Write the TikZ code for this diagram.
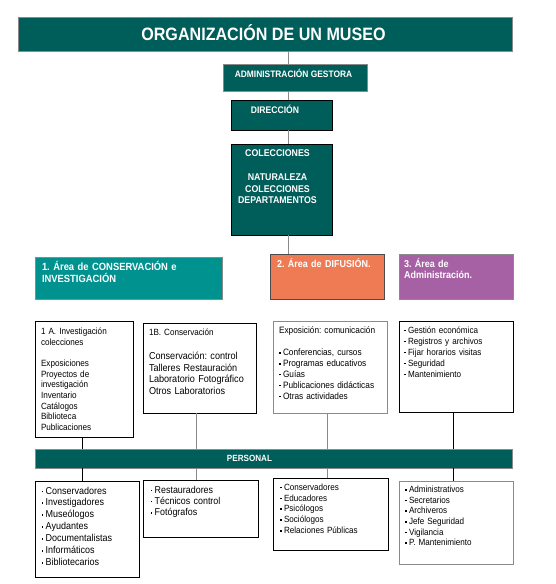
\documentclass[tikz,border=0pt]{standalone}
\usepackage{fontspec}
\setmainfont{Liberation Sans}[FakeStretch=0.9]
\usepackage{graphicx}
\usetikzlibrary{calc}
\frenchspacing
\definecolor{darkteal}{HTML}{005E5A}
\definecolor{areateal}{HTML}{00928F}
\definecolor{areaorange}{HTML}{EF7B55}
\definecolor{areapurple}{HTML}{A561A3}
\definecolor{edgegray}{HTML}{8A8A8A}
\newcommand\bul{\rule[1.9pt]{1.6pt}{1.6pt}\hspace{2.4pt}}
\newcommand\fsz[2]{\fontsize{#1}{#2}\selectfont}
\tikzset{
  box/.style={draw, line width=0.9pt, inner sep=0pt, outer sep=0pt, anchor=north west},
  darkbox/.style={box, fill=darkteal},
  whitebox/.style={box, fill=white},
  txt/.style={inner sep=0pt, outer sep=0pt, anchor=base west, align=left, text width=160pt},
  ctxt/.style={inner sep=0pt, outer sep=0pt, anchor=base, align=center, text width=140pt},
  stxt/.style={inner sep=0pt, outer sep=0pt, anchor=base},
  conn/.style={line width=0.8pt, draw=edgegray},
  connk/.style={line width=0.8pt, draw=black},
}
\begin{document}
\begin{tikzpicture}[x=1pt,y=-1pt]
\useasboundingbox (0,0) rectangle (555,584);
% boxes
\node[darkbox, draw=edgegray, minimum width=494pt, minimum height=34pt] (title) at (18,17) {};
\node[darkbox, draw=edgegray, minimum width=144pt, minimum height=27pt] (gest) at (223,64) {};
\node[darkbox, minimum width=101pt, minimum height=30pt] (dir) at (231,100) {};
\node[darkbox, minimum width=101pt, minimum height=91pt] (col) at (231,144) {};
\node[box, fill=areateal, draw=edgegray, minimum width=187pt, minimum height=42pt] (a1) at (35,257) {};
\node[box, fill=areaorange, draw=black!70, minimum width=114pt, minimum height=45pt] (a2) at (270,254) {};
\node[box, fill=areapurple, draw=edgegray, minimum width=114pt, minimum height=45pt] (a3) at (399,254) {};
\node[whitebox, minimum width=98pt, minimum height=116pt] (s1a) at (35,321) {};
\node[whitebox, minimum width=113pt, minimum height=90pt] (s1b) at (143,323) {};
\node[whitebox, draw=edgegray, minimum width=114pt, minimum height=92pt] (s2) at (273,321) {};
\node[whitebox, minimum width=114pt, minimum height=91pt] (s3) at (399,321) {};
\node[darkbox, draw=edgegray, minimum width=477pt, minimum height=19pt] (pers) at (35,449) {};
\node[whitebox, minimum width=104pt, minimum height=96pt] (p1) at (35,481) {};
\node[whitebox, minimum width=115pt, minimum height=57pt] (p2) at (143,480) {};
\node[whitebox, minimum width=115pt, minimum height=72pt] (p3) at (273,478) {};
\node[whitebox, draw=edgegray, minimum width=114pt, minimum height=83pt] (p4) at (399,481) {};
% connector columns
\coordinate (tk) at (288,0);
\coordinate (v1) at (82,0);
\coordinate (v2) at (196,0);
\coordinate (v3) at (327,0);
\coordinate (v4) at (453,0);
\draw[conn] (title.south -| tk) -- (gest.north -| tk);
\draw[conn] (gest.south -| tk) -- (dir.north -| tk);
\draw[conn] (dir.south -| tk) -- (col.north -| tk);
\draw[conn] (col.south -| tk) -- (a2.north -| tk);
\draw[connk] (s1a.south -| v1) -- (pers.north -| v1);
\draw[connk] (pers.south -| v1) -- (p1.north -| v1);
\draw[conn] (s1b.south -| v2) -- (pers.north -| v2);
\draw[conn] (pers.south -| v2) -- (p2.north -| v2);
\draw[conn] (s2.south -| v3) -- (pers.north -| v3);
\draw[conn] (pers.south -| v3) -- (p3.north -| v3);
\draw[connk] (s3.south -| v4) -- (pers.north -| v4);
\draw[connk] (pers.south -| v4) -- (p4.north -| v4);
% texts
\node[stxt, text=white, font=\fsz{17.9}{20}\bfseries] (titletxt) at (263.5,40) {ORGANIZACIÓN DE UN MUSEO};
\node[stxt, text=white, font=\fsz{9.33}{10}\bfseries] (gesttxt) at (293.5,77.3) {ADMINISTRACIÓN GESTORA};
\node[stxt, text=white, font=\fsz{9.55}{10}\bfseries] (dirtxt) at (275,113.3) {DIRECCIÓN};
\node[ctxt, text=white, font=\fsz{9.78}{11.8}\bfseries] (coltxt) at (277.5,156.7) {COLECCIONES\\[11.8pt]NATURALEZA\\COLECCIONES\\DEPARTAMENTOS};
\node[txt, text=white, font=\fsz{10.44}{11.4}\bfseries] (a1txt) at (42,270.7) {1. Área de CONSERVACIÓN e\\INVESTIGACIÓN};
\node[txt, text=white, font=\fsz{10}{11.6}\bfseries] (a2txt) at (277,267.3) {2. Área de DIFUSIÓN.};
\node[txt, text=white, font=\fsz{10}{11.6}\bfseries] (a3txt) at (404,267.3) {3. Área de\\Administración.};
\node[txt, font=\fsz{9.05}{10.7}] (s1atxt) at (41,334.3) {1 A. Investigación\\colecciones\\[10.7pt]Exposiciones\\Proyectos de\\investigación\\Inventario\\Catálogos\\Biblioteca\\Publicaciones};
\node[txt, font=\fsz{9.0}{10.7}] (s1bhead) at (149,335.7) {1B. Conservación};
\node[txt, font=\fsz{10.1}{11.7}] (s1btxt) at (149,359.3) {Conservación: control\\Talleres Restauración\\Laboratorio Fotográfico\\Otros Laboratorios};
\node[txt, font=\fsz{9.22}{10.9}] (s2txt) at (279,333.7) {Exposición: comunicación\\[10.9pt]\bul Conferencias, cursos\\\bul Programas educativos\\\bul Guías\\\bul Publicaciones didácticas\\\bul Otras actividades};
\node[txt, font=\fsz{9.0}{11}] (s3txt) at (404,333) {\bul Gestión económica\\\bul Registros y archivos\\\bul Fijar horarios visitas\\\bul Seguridad\\\bul Mantenimiento};
\node[stxt, text=white, font=\fsz{9.0}{10}\bfseries] (perstxt) at (249.5,461.7) {PERSONAL};
\node[txt, font=\fsz{10}{11.9}] (p1txt) at (41.7,494) {\bul Conservadores\\\bul Investigadores\\\bul Museólogos\\\bul Ayudantes\\\bul Documentalistas\\\bul Informáticos\\\bul Bibliotecarios};
\node[txt, font=\fsz{9.9}{11.3}] (p2txt) at (150.7,493) {\bul Restauradores\\\bul Técnicos control\\\bul Fotógrafos};
\node[txt, font=\fsz{9.0}{10.8}] (p3txt) at (280,490.3) {\bul Conservadores\\\bul Educadores\\\bul Psicólogos\\\bul Sociólogos\\\bul Relaciones Públicas};
\node[txt, font=\fsz{9.0}{10.6}] (p4txt) at (405,492.7) {\bul Administrativos\\\bul Secretarios\\\bul Archiveros\\\bul Jefe Seguridad\\\bul Vigilancia\\\bul P. Mantenimiento};
\end{tikzpicture}
\end{document}
